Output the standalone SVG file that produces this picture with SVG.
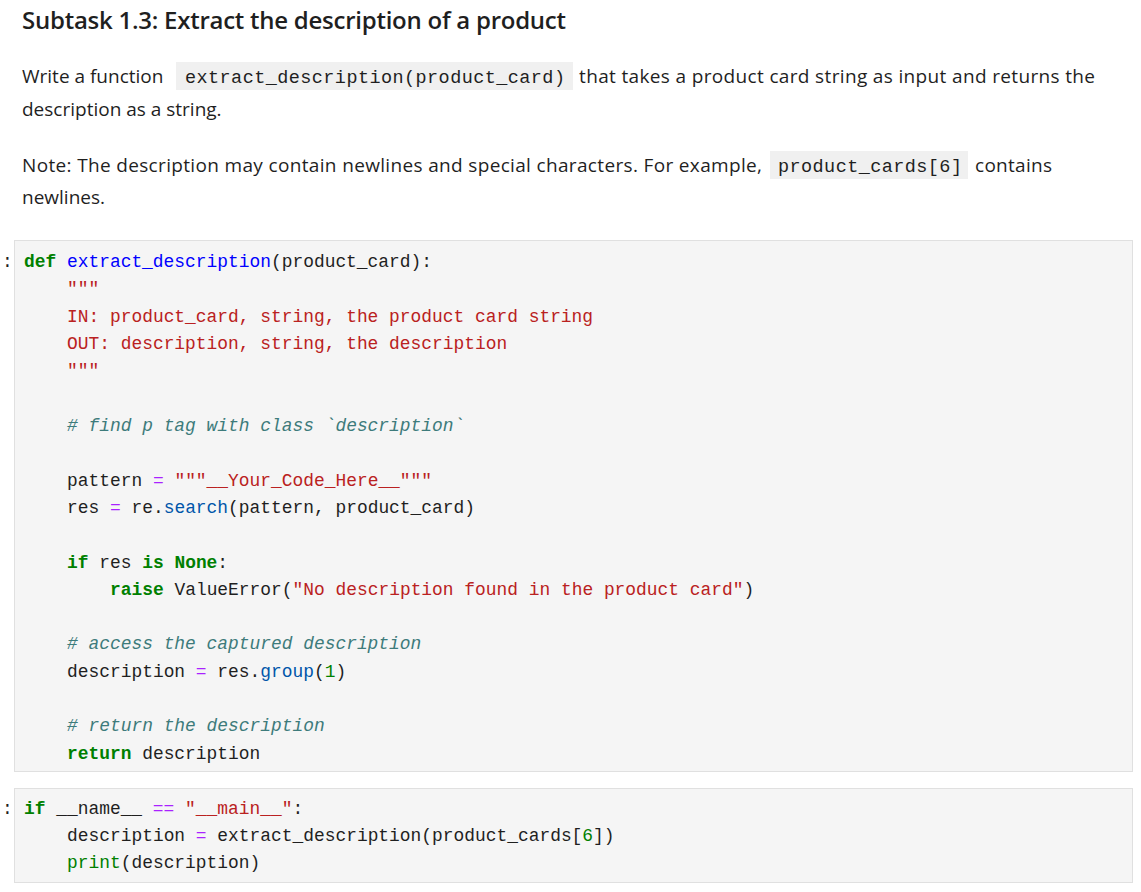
<svg xmlns="http://www.w3.org/2000/svg" width="1141" height="892" viewBox="0 0 1141 892">
<style>
.h{font-family:"Open Sans","Noto Sans",sans-serif;font-weight:600;font-size:24px;fill:#1f1f1f}
.p{font-family:"Open Sans","Noto Sans",sans-serif;font-size:19px;fill:#1f1f1f}
.ic{font-family:"Liberation Mono","DejaVu Sans Mono",monospace;font-size:18.5px;fill:#1f1f1f}
.c{font-family:"Liberation Mono","DejaVu Sans Mono",monospace;font-size:17.9px;fill:#1f1f1f}
.k{fill:#008000;font-weight:bold}
.f{fill:#0000ff}
.s{fill:#ba2121}
.m{fill:#3d7b7b;font-style:italic}
.o{fill:#aa22ff}
.b{fill:#0055aa}
.n{fill:#008000}
.box{fill:#f5f5f5;stroke:#e0e0e0;stroke-width:1}
.icb{fill:#f0f0f0}
</style>
<rect width="1141" height="892" fill="#ffffff"/>
<g id="heading"><text class="h" x="22" y="29" textLength="544">Subtask 1.3: Extract the description of a product</text></g>
<g id="para1">
<rect class="icb" x="176" y="62" width="397" height="28"/>
<text class="p" x="22" y="83">Write a function</text>
<text class="ic" x="185" y="83" textLength="380">extract_description(product_card)</text>
<text class="p" x="579" y="83" textLength="516">that takes a product card string as input and returns the</text>
<text class="p" x="22" y="116">description as a string.</text>
</g>
<g id="para2">
<rect class="icb" x="770" y="151" width="198" height="28"/>
<text class="p" x="22" y="172" textLength="740">Note: The description may contain newlines and special characters. For example,</text>
<text class="ic" x="778" y="172" textLength="184">product_cards[6]</text>
<text class="p" x="975" y="172" textLength="77">contains</text>
<text class="p" x="22" y="204">newlines.</text>
</g>
<g id="cell1" xml:space="preserve">
<rect class="box" x="14.5" y="240.5" width="1118" height="531"/>
<text class="c" x="2" y="267">:</text>
<text class="c" x="24" y="267"><tspan class="k">def</tspan> <tspan class="f">extract_description</tspan>(product_card):</text>
<text class="c s" x="67" y="294">"""</text>
<text class="c s" x="67" y="322">IN: product_card, string, the product card string</text>
<text class="c s" x="67" y="349">OUT: description, string, the description</text>
<text class="c s" x="67" y="376">"""</text>
<text class="c m" x="67" y="431">#&#160;find p tag with class `description`</text>
<text class="c" x="67" y="486">pattern <tspan class="o">=</tspan> <tspan class="s">"""__Your_Code_Here__"""</tspan></text>
<text class="c" x="67" y="513">res <tspan class="o">=</tspan> re.<tspan class="b">search</tspan>(pattern, product_card)</text>
<text class="c" x="67" y="568"><tspan class="k">if</tspan> res <tspan class="k">is</tspan> <tspan class="k">None</tspan>:</text>
<text class="c" x="110" y="595"><tspan class="k">raise</tspan> ValueError(<tspan class="s">"No description found in the product card"</tspan>)</text>
<text class="c m" x="67" y="649"># access the captured description</text>
<text class="c" x="67" y="677">description <tspan class="o">=</tspan> res.<tspan class="b">group</tspan>(<tspan class="n">1</tspan>)</text>
<text class="c m" x="67" y="731"># return the description</text>
<text class="c" x="67" y="759"><tspan class="k">return</tspan> description</text>
</g>
<g id="cell2" xml:space="preserve">
<rect class="box" x="14.5" y="788.5" width="1118" height="94"/>
<text class="c" x="2" y="814">:</text>
<text class="c" x="24" y="814"><tspan class="k">if</tspan> __name__ <tspan class="o">==</tspan> <tspan class="s">"__main__"</tspan>:</text>
<text class="c" x="67" y="841">description <tspan class="o">=</tspan> extract_description(product_cards[<tspan class="n">6</tspan>])</text>
<text class="c" x="67" y="868"><tspan class="n">print</tspan>(description)</text>
</g>
</svg>
